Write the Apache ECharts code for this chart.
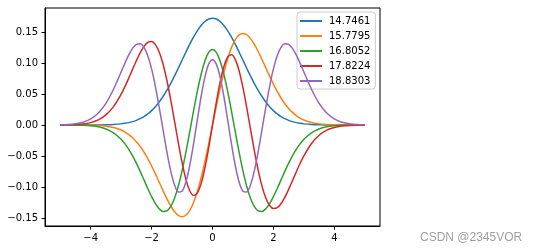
<!DOCTYPE html>
<html>
<head>
<meta charset="utf-8">
<script src="https://cdn.jsdelivr.net/npm/echarts@6/dist/echarts.min.js"></script>
<style>html,body{margin:0;padding:0;background:#fff;}#c{width:538px;height:250px;}</style>
</head>
<body>
<div id="c"></div>
<script>
var xs = [-5,-4.75,-4.5,-4.25,-4,-3.75,-3.5,-3.25,-3,-2.875,-2.75,-2.625,-2.5,-2.375,-2.25,-2.125,-2,-1.875,-1.75,-1.625,-1.5,-1.375,-1.25,-1.125,-1,-0.875,-0.75,-0.625,-0.5,-0.375,-0.25,-0.125,0,0.125,0.25,0.375,0.5,0.625,0.75,0.875,1,1.125,1.25,1.375,1.5,1.625,1.75,1.875,2,2.125,2.25,2.375,2.5,2.625,2.75,2.875,3,3.25,3.5,3.75,4,4.25,4.5,4.75,5];
var seriesNames = ['14.7461','15.7795','16.8052','17.8224','18.8303'];
var colors = ['#1f77b4','#ff7f0e','#2ca02c','#d62728','#9467bd'];
var s1 = [0,0,0,0,0.0001,0.0002,0.0004,0.0009,0.0019,0.0028,0.0039,0.0055,0.0076,0.0103,0.0137,0.0180,0.0233,0.0297,0.0373,0.0461,0.0560,0.0670,0.0790,0.0916,0.1046,0.1176,0.1302,0.1419,0.1522,0.1608,0.1672,0.1712,0.1725,0.1712,0.1672,0.1608,0.1522,0.1419,0.1302,0.1176,0.1046,0.0916,0.0790,0.0670,0.0560,0.0461,0.0373,0.0297,0.0233,0.0180,0.0137,0.0103,0.0076,0.0055,0.0039,0.0028,0.0019,0.0009,0.0004,0.0002,0.0001,0,0,0,0];
var s2 = [0,0,0,-0.0001,-0.0003,-0.0008,-0.0019,-0.0040,-0.0081,-0.0113,-0.0153,-0.0204,-0.0268,-0.0345,-0.0437,-0.0542,-0.0661,-0.0789,-0.0923,-0.1059,-0.1188,-0.1303,-0.1396,-0.1458,-0.1480,-0.1456,-0.1381,-0.1254,-0.1076,-0.0853,-0.0591,-0.0303,0,0.0303,0.0591,0.0853,0.1076,0.1254,0.1381,0.1456,0.1480,0.1458,0.1396,0.1303,0.1188,0.1059,0.0923,0.0789,0.0661,0.0542,0.0437,0.0345,0.0268,0.0204,0.0153,0.0113,0.0081,0.0040,0.0019,0.0008,0.0003,0.0001,0,0,0];
var s3 = [0,-0.0001,-0.0002,-0.0005,-0.0013,-0.0029,-0.0063,-0.0125,-0.0230,-0.0304,-0.0392,-0.0497,-0.0616,-0.0747,-0.0886,-0.1025,-0.1156,-0.1269,-0.1352,-0.1395,-0.1386,-0.1318,-0.1187,-0.0992,-0.0739,-0.0442,-0.0115,0.0220,0.0539,0.0817,0.1035,0.1173,0.1220,0.1173,0.1035,0.0817,0.0539,0.0220,-0.0115,-0.0442,-0.0739,-0.0992,-0.1187,-0.1318,-0.1386,-0.1395,-0.1352,-0.1269,-0.1156,-0.1025,-0.0886,-0.0747,-0.0616,-0.0497,-0.0392,-0.0304,-0.0230,-0.0125,-0.0063,-0.0029,-0.0013,-0.0005,-0.0002,-0.0001,0];
var s4 = [0.0001,0.0003,0.0007,0.0017,0.0039,0.0083,0.0164,0.0298,0.0498,0.0621,0.0757,0.0899,0.1039,0.1167,0.1270,0.1335,0.1348,0.1298,0.1178,0.0986,0.0727,0.0416,0.0072,-0.0279,-0.0604,-0.0873,-0.1057,-0.1136,-0.1099,-0.0946,-0.0694,-0.0367,0,0.0367,0.0694,0.0946,0.1099,0.1136,0.1057,0.0873,0.0604,0.0279,-0.0072,-0.0416,-0.0727,-0.0986,-0.1178,-0.1298,-0.1348,-0.1335,-0.1270,-0.1167,-0.1039,-0.0899,-0.0757,-0.0621,-0.0498,-0.0298,-0.0164,-0.0083,-0.0039,-0.0017,-0.0007,-0.0003,-0.0001];
var s5 = [0.0003,0.0008,0.0020,0.0046,0.0099,0.0195,0.0351,0.0578,0.0856,0.1000,0.1132,0.1238,0.1304,0.1313,0.1254,0.1119,0.0906,0.0622,0.0287,-0.0075,-0.0429,-0.0737,-0.0964,-0.1081,-0.1068,-0.0923,-0.0661,-0.0312,0.0078,0.0457,0.0774,0.0983,0.1056,0.0983,0.0774,0.0457,0.0078,-0.0312,-0.0661,-0.0923,-0.1068,-0.1081,-0.0964,-0.0737,-0.0429,-0.0075,0.0287,0.0622,0.0906,0.1119,0.1254,0.1313,0.1304,0.1238,0.1132,0.1000,0.0856,0.0578,0.0351,0.0195,0.0099,0.0046,0.0020,0.0008,0.0003];
var xTicks = [-4,-2,0,2,4];
var yTicks = [-0.15,-0.10,-0.05,0,0.05,0.10,0.15];

var allY = [s1,s2,s3,s4,s5];
var chart = echarts.init(document.getElementById('c'), null, {renderer:'canvas'});
var font = 'DejaVu Sans';
function pairs(ys){ return xs.map(function(x,i){ return [x, ys[i]]; }); }
var series = allY.map(function(ys, k){
  return {
    name: seriesNames[k], type:'line', data: pairs(ys), showSymbol:false, smooth:0.3,
    color: colors[k], lineStyle:{width:1.5, color: colors[k]}, z: 2+k
  };
});
function fmtY(v){ var s = Math.abs(v).toFixed(2); return (v < -1e-9 ? '\u2212' : '') + s; }
function fmtX(v){ return (v < 0 ? '\u2212' : '') + Math.abs(v); }
chart.setOption({
  animation:false,
  backgroundColor:'#fff',
  grid:{left:45, right:158, top:8, bottom:24, show:true, borderColor:'#000', borderWidth:1, backgroundColor:'transparent'},
  xAxis:{type:'value', min:-5.5, max:5.5,
    axisLine:{show:true, onZero:false, lineStyle:{color:'#000', width:1}},
    axisTick:{show:true, length:3.5, customValues:xTicks, lineStyle:{color:'#000'}},
    axisLabel:{customValues:xTicks, formatter:fmtX, color:'#000', fontFamily:font, fontSize:10, margin:7},
    splitLine:{show:false}},
  yAxis:{type:'value', min:-0.163, max:0.189,
    axisLine:{show:true, onZero:false, lineStyle:{color:'#000', width:1}},
    axisTick:{show:true, length:3.5, customValues:yTicks, lineStyle:{color:'#000'}},
    axisLabel:{customValues:yTicks, formatter:fmtY, color:'#000', fontFamily:font, fontSize:10, margin:7},
    splitLine:{show:false}},
  legend:{orient:'vertical', left:297, top:12, padding:[3,5,2,3], itemGap:3,
    itemWidth:22, itemHeight:2, icon:'rect',
    backgroundColor:'rgba(255,255,255,0.8)', borderColor:'#cccccc', borderWidth:1, borderRadius:3,
    textStyle:{fontFamily:font, fontSize:10, color:'#000', lineHeight:12, padding:[0,0,0,2]},
    data: seriesNames.map(function(n){ return {name:n}; })},
  graphic:[{type:'text', left:420, top:232, style:{text:'CSDN @2345VOR', fill:'#a0a0a0', font:'12px "Liberation Sans"'}}],
  series: series
});
</script>
</body>
</html>
